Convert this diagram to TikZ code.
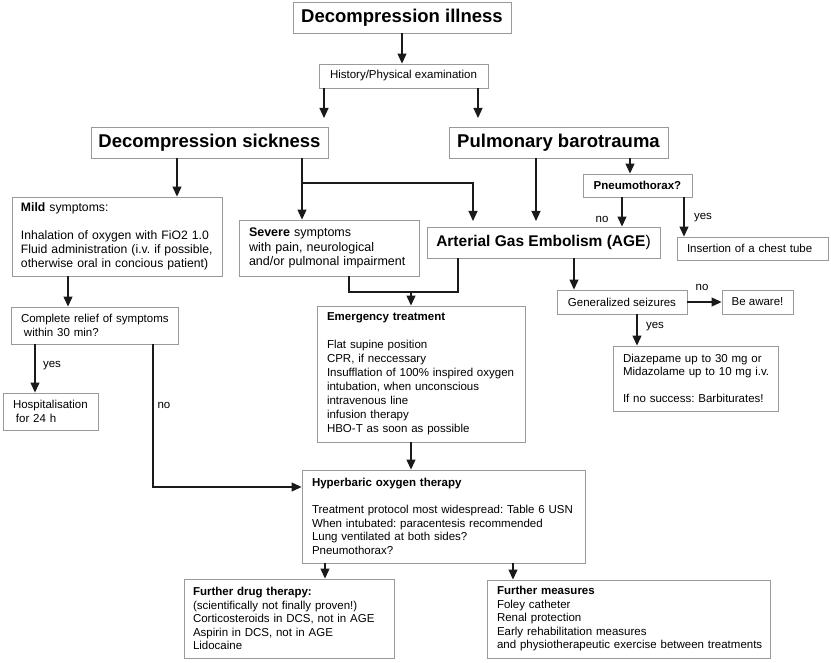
\documentclass[tikz,border=0pt]{standalone}
\usepackage{fontspec}
\setmainfont{Liberation Sans}
\usetikzlibrary{arrows.meta}
\definecolor{boxgray}{HTML}{9A9A9A}
\definecolor{linecol}{HTML}{1A1A1A}
\newcommand\mypad[1]{\leftskip=#1\relax\rightskip=0pt plus 1fil\relax\parindent=0pt\relax\hyphenpenalty=10000\relax\exhyphenpenalty=10000\relax}
\begin{document}
\begin{tikzpicture}[x=1pt,y=-1pt,
  box/.style={draw=boxgray, line width=0.9pt, fill=white, inner sep=0pt, font=\fontsize{11.5}{13.5}\selectfont\frenchspacing},
  tbox/.style={box, inner xsep=0pt, text width=#1},
  title/.style={box, font=\bfseries\fontsize{18.5}{20}\selectfont},
  arr/.style={draw=linecol, line width=1.1pt, -{Triangle[length=10pt,width=9pt]}},
  ln/.style={draw=linecol, line width=1.1pt},
  lab/.style={font=\fontsize{11.5}{13.5}\selectfont, inner sep=0pt}]
\fill[white] (0,0) rectangle (831,663);
\useasboundingbox (0,0) rectangle (831,663);

% nodes
\node[title, minimum width=218pt, minimum height=31pt] (ill) at (402,17.5) {Decompression illness};
\node[box, minimum width=169pt, minimum height=24pt] (hist) at (403.5,76) {History/Physical examination};
\node[title, minimum width=237pt, minimum height=31pt] (dcs) at (209.5,142.5) {Decompression sickness};
\node[title, minimum width=219pt, minimum height=31pt] (pb) at (558.5,142.5) {Pulmonary barotrauma};
\node[box, font=\bfseries\fontsize{11.5}{13.5}\selectfont, minimum width=109pt, minimum height=23pt] (pneumo) at (637.5,185.5) {Pneumothorax?};
\node[tbox=210pt, minimum height=79pt, font=\fontsize{12.2}{14}\selectfont\frenchspacing] (mild) at (117,236.5)
  {\mypad{9pt}\textbf{Mild} symptoms:\\[14pt]Inhalation of oxygen with FiO2 1.0\\Fluid administration (i.v. if possible,\\otherwise oral in concious patient)\par};
\node[tbox=180pt, minimum height=56pt, font=\fontsize{12.5}{14.5}\selectfont\frenchspacing] (sev) at (329,248)
  {\mypad{10pt}\textbf{Severe} symptoms\\with pain, neurological\\and/or pulmonal impairment\par};
\node[box, font=\bfseries\fontsize{15.5}{18}\selectfont, minimum width=233pt, minimum height=31pt] (age) at (543.5,242.5) {Arterial Gas Embolism (AGE\textmd{)}};
\node[tbox=151pt, minimum height=23pt] (chest) at (752.5,248.5) {\mypad{10pt}Insertion of a chest tube\par};
\node[tbox=167pt, minimum height=37pt] (relief) at (94.5,325.5) {\mypad{10pt}Complete relief of symptoms\\\hspace*{3pt}within 30 min?\par};
\node[tbox=95pt, minimum height=37pt] (hosp) at (50.5,411.5) {\mypad{10pt}Hospitalisation\\\hspace*{3pt}for 24 h\par};
\node[tbox=208pt, minimum height=136pt, font=\fontsize{11.5}{14}\selectfont\frenchspacing] (emerg) at (421,374)
  {\mypad{10pt}\textbf{Emergency treatment}\\[14pt]Flat supine position\\CPR, if neccessary\\Insufflation of 100\% inspired oxygen\\intubation, when unconscious\\intravenous line\\infusion therapy\\HBO-T as soon as possible\par};
\node[box, minimum width=130pt, minimum height=24pt] (seiz) at (622,302) {Generalized seizures};
\node[box, minimum width=71pt, minimum height=24pt] (aware) at (757.5,302) {Be aware!};
\node[tbox=165pt, minimum height=65pt] (diaz) at (695.5,378.5)
  {\mypad{10pt}Diazepame up to 30 mg or\\Midazolame up to 10 mg i.v.\\[13.5pt]If no success: Barbiturates!\par};
\node[tbox=283pt, minimum height=93pt] (hbo) at (443.5,516.5)
  {\mypad{10pt}\textbf{Hyperbaric oxygen therapy}\\[13.5pt]Treatment protocol most widespread: Table 6 USN\\When intubated: paracentesis recommended\\Lung ventilated at both sides?\\Pneumothorax?\par};
\node[tbox=210pt, minimum height=79pt] (drug) at (289,618.5)
  {\mypad{9pt}\textbf{Further drug therapy:}\\(scientifically not finally proven!)\\Corticosteroids in DCS, not in AGE\\Aspirin in DCS, not in AGE\\Lidocaine\par};
\node[tbox=283pt, minimum height=78pt] (meas) at (628.5,619)
  {\mypad{10pt}\textbf{Further measures}\\Foley catheter\\Renal protection\\Early rehabilitation measures\\and physiotherapeutic exercise between treatments\par};

% coordinates
\coordinate (hd1) at (324,118);
\coordinate (hd2) at (478,118);
\coordinate (xmi) at (177,0);
\coordinate (xsev) at (302,183);
\coordinate (jage) at (473,221);
\coordinate (jpb) at (536,221);
\coordinate (xpn) at (630,0);
\coordinate (xno) at (622,0);
\coordinate (xyes) at (684,0);
\coordinate (xm) at (68,0);
\coordinate (xh) at (35,0);
\coordinate (bno) at (153,487);
\coordinate (sl) at (349,292);
\coordinate (al) at (458,292);
\coordinate (jem) at (411,292);
\coordinate (xs) at (574,0);
\coordinate (xd) at (637,0);
\coordinate (xdr) at (325,0);
\coordinate (xme) at (513,0);

% connectors
\draw[arr] (ill.south) -- (hist.north -| ill.south);
\draw[arr] (hist.south -| hd1) -- (hd1);
\draw[arr] (hist.south -| hd2) -- (hd2);
\draw[arr] (dcs.south -| xmi) -- (mild.north -| xmi);
\draw[arr] (dcs.south -| xsev) -- (sev.north -| xsev);
\draw[arr] (xsev) -| (jage);
\draw[arr] (pb.south -| jpb) -- (jpb);
\draw[arr] (pb.south -| xpn) -- (pneumo.north -| xpn);
\draw[arr] (pneumo.south -| xno) -- (age.north -| xno);
\draw[arr] (pneumo.south -| xyes) -- (chest.north -| xyes);
\draw[arr] (mild.south -| xm) -- (relief.north -| xm);
\draw[arr] (relief.south -| xh) -- (hosp.north -| xh);
\draw[arr] (relief.south -| bno) -- (bno) -- (hbo.west |- bno);
\draw[ln] (sev.south -| sl) -- (sl) -- (al) -- (age.south -| al);
\draw[arr] (jem) -- (emerg.north -| jem);
\draw[arr] (emerg.south -| jem) -- (hbo.north -| jem);
\draw[arr] (age.south -| xs) -- (seiz.north -| xs);
\draw[arr] (seiz.east) -- (aware.west);
\draw[arr] (seiz.south -| xd) -- (diaz.north -| xd);
\draw[arr] (hbo.south -| xdr) -- (drug.north -| xdr);
\draw[arr] (hbo.south -| xme) -- (meas.north -| xme);

% labels
\node[lab] (l1) at (52,366) {yes};
\node[lab] (l2) at (164,405) {no};
\node[lab] (l3) at (602,219) {no};
\node[lab] (l4) at (703,218) {yes};
\node[lab] (l5) at (702,287) {no};
\node[lab] (l6) at (655,327) {yes};
\end{tikzpicture}
\end{document}
